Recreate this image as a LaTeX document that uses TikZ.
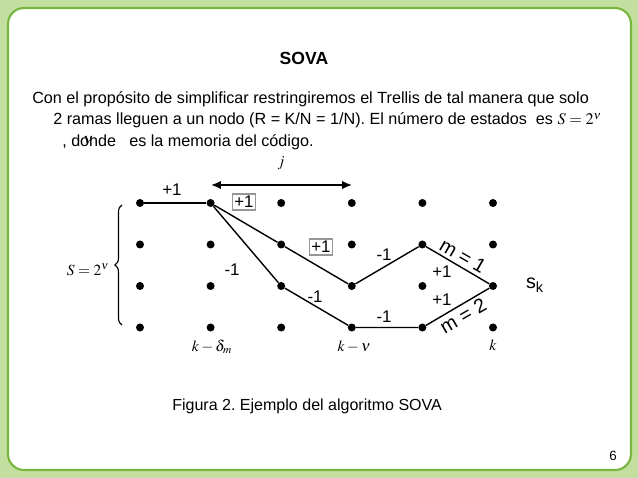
\documentclass[tikz,border=0pt]{standalone}
\usepackage{mathptmx}
\usepackage{fontspec}
\setmainfont{Liberation Sans}
\usetikzlibrary{arrows.meta,decorations.pathreplacing}
\frenchspacing

\definecolor{slidebg}{RGB}{195,223,160}
\definecolor{slideframe}{RGB}{120,182,62}
\definecolor{boxgray}{RGB}{150,150,150}

\begin{document}
\begin{tikzpicture}[
    x=0.025cm, y=-0.025cm,
    dot/.style={circle, fill=black, inner sep=0pt, minimum size=0.2cm},
    branch/.style={line width=1pt},
    weight/.style={font=\fontsize{12}{14}\selectfont, inner sep=1pt},
    boxed/.style={weight, draw=boxgray, line width=1pt, inner sep=1.5pt},
    body/.style={anchor=base west, font=\fontsize{11.5}{13}\selectfont, inner sep=0pt},
    memory/.style={font=\fontsize{14}{16}\selectfont, inner sep=0pt},
    time/.style={font=\fontsize{11}{13}\selectfont, inner sep=0pt}
]

% Slide background
\fill[slidebg] (0,0) rectangle (638,478);
\filldraw[fill=white, draw=slideframe, line width=1.5pt, rounded corners=0.4cm] (8,8) rectangle (631,470);
\useasboundingbox (0,0) rectangle (638,478);

% Title and text
\node[font=\bfseries\fontsize{12.5}{14}\selectfont] (title) at (304,58) {SOVA};
\node[body] (line1) at (32,104) {Con el propósito de simplificar restringiremos el Trellis de tal manera que solo};
\node[body] (line2) at (53,125) {2 ramas lleguen a un nodo\ (R = K/N = 1/N). El número de estados\ \ es $S=2^{\nu}$};
\node[body] (line3) at (62,147) {, donde};
\node[body] (nu) at (83,145) {$\nu$};
\node[body] (line3b) at (129,147) {es la memoria del código.};

% Trellis nodes
\foreach \c in {1,...,6}
  \foreach \r in {1,...,4}
    \node[dot] (d\c\r) at ({140+70.6*(\c-1)},{203+41.5*(\r-1)}) {};

% Branches
\draw[branch] (d11) -- (d21);
\draw[branch] (d21) -- (d32) -- (d43) -- (d52) -- (d63);
\draw[branch] (d21) -- (d33) -- (d44) -- (d54) -- (d63);

% Branch labels
\node[weight] (w1) at (172,190) {+1};
\node[boxed] (w2) at (244,202) {+1};
\node[boxed] (w3) at (321,247) {+1};
\node[weight] (w4) at (232,270) {-1};
\node[weight] (w5) at (315,297) {-1};
\node[weight] (w6) at (384,255) {-1};
\node[weight] (w7) at (384,317) {-1};
\node[weight] (w8) at (442,272) {+1};
\node[weight] (w9) at (442,300) {+1};
\node[memory, rotate=-30] (m1) at (463,256) {m = 1};
\node[memory, rotate=30] (m2) at (463,316) {m = 2};
\node[memory] (sk) at (535,285) {s\textsubscript{k}};

% Window j
\coordinate (jl) at (211,185);
\coordinate (jr) at (352,185);
\draw[{Latex[length=7pt,width=6pt]}-{Latex[length=7pt,width=6pt]}, line width=1.2pt] (jl) -- (jr);
\node[time] (j) at (281,163) {$j$};

% Number of states
\coordinate (bb) at (122,325);
\coordinate (bt) at (122,205);
\draw[decorate, decoration={brace, amplitude=5pt}, line width=0.8pt] (bb) -- (bt);
\node[time] (states) at (88,270) {$S=2^{\nu}$};

% Time indices
\node[time] (t1) at (212,347) {$k-\delta_m$};
\node[time] (t2) at (354,347) {$k-\nu$};
\node[time] (t3) at (493,345) {$k$};

% Caption
\node[anchor=base west, font=\fontsize{11.4}{14}\selectfont, inner sep=0pt] (caption) at (172,410) {Figura 2. Ejemplo del algoritmo SOVA};
\node[font=\fontsize{9.5}{11}\selectfont] (page) at (613,456) {6};
\end{tikzpicture}
\end{document}
